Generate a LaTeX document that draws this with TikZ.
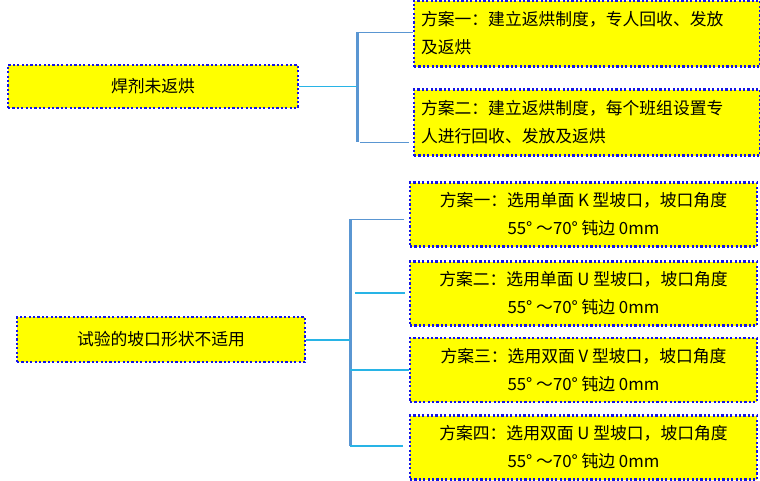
\documentclass[tikz,border=0pt]{standalone}
\usepackage{fontspec}
\setmainfont{Liberation Serif}
\newfontfamily\cjk{Noto Sans CJK SC}
\definecolor{boxblue}{RGB}{20,20,230}
\definecolor{barblue}{RGB}{90,150,210}
\definecolor{linkblue}{RGB}{40,180,230}
\definecolor{boxfill}{RGB}{255,255,0}
\tikzset{
  planbox/.style={draw=boxblue, line width=2.6pt, dash pattern=on 2.2pt off 2.2pt, fill=boxfill,
    font=\cjk\fontsize{16.8}{28}\selectfont, inner sep=0pt},
  bar/.style={draw=barblue, line width=3pt},
  arm/.style={draw=linkblue, line width=1.2pt},
  armgrey/.style={draw=barblue, line width=1pt}
}
\begin{document}
\begin{tikzpicture}[x=1pt,y=-1pt]
	\useasboundingbox (0,0) rectangle (760,480);
	% first problem
	\node [planbox, minimum width=290, minimum height=43] (weld) at (153,86.5) {焊剂未返烘};
	\node [planbox, minimum width=346, minimum height=66, align=left, text width=332] (w1) at (587,33.5)
		{方案一：建立返烘制度，专人回收、发放\\及返烘};
	\node [planbox, minimum width=346, minimum height=66, align=left, text width=332] (w2) at (587,122.5)
		{方案二：建立返烘制度，每个班组设置专\\人进行回收、发放及返烘};
	\coordinate (wt) at (357,32);
	\coordinate (wb) at (357,142);
	\draw [bar] (wt) -- (wb);
	\draw [arm] (weld.east) -- (weld.east -| wt);
	\draw [armgrey] (wt) -- (w1.west |- wt);
	\draw [armgrey] ([xshift=3pt]wb) -- ([xshift=-4pt]w2.west |- wb);
	% second problem
	\node [planbox, minimum width=288, minimum height=45] (groove) at (161,339.5) {试验的坡口形状不适用};
	\foreach \n/\t/\y in {g1/方案一：选用单面 K 型坡口，坡口角度/214.5, g2/方案二：选用单面 U 型坡口，坡口角度/293.5,
		g3/方案三：选用双面 V 型坡口，坡口角度/370, g4/方案四：选用双面 U 型坡口，坡口角度/447.5}
	{
		\node [planbox, minimum width=347, minimum height=64, align=center] (\n) at (583.5,\y)
			{\t\\55° ～70° 钝边 0mm};
	}
	\coordinate (gt) at (350,219);
	\coordinate (gb) at (350,446);
	\draw [bar] (gt) -- (gb);
	\draw [arm] (groove.east |- 0,340) -- (gt |- 0,340);
	\draw [armgrey] (gt) -- ([xshift=-5pt]g1.west |- gt);
	\draw [arm] (355,293) -- ([xshift=-4pt]g2.west |- 0,293);
	\draw [arm] (350,370) -- (g3.west |- 0,370);
	\draw [arm] (gb) -- ([xshift=-6pt]g4.west |- gb);
\end{tikzpicture}
\end{document}
